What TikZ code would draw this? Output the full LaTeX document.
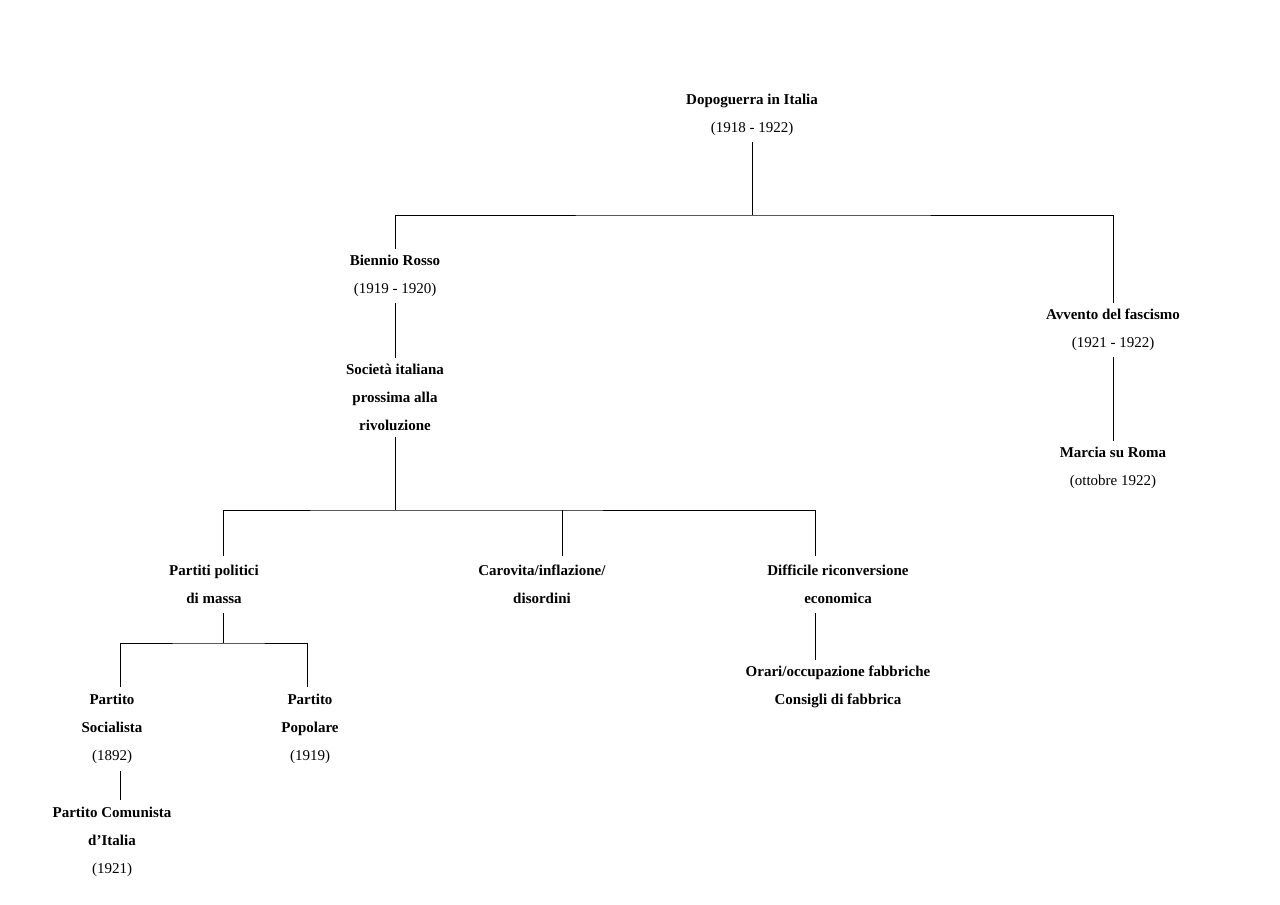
\documentclass[tikz,border=0pt]{standalone}
\usepackage{fontspec}
\setmainfont{Liberation Serif}
\usetikzlibrary{positioning}
\tikzset{
    topic/.style={align=center, inner sep=6pt, font=\fontsize{15}{28}\selectfont},
    link/.style={thick},
}
\newcommand{\ttl}[1]{\textbf{#1}}
\begin{document}
\begin{tikzpicture}[x=1pt, y=-1pt]
        \useasboundingbox (0,0) rectangle (1280,905);
        \node[topic] (root) at (752,115) {\ttl{Dopoguerra in Italia}\\(1918 - 1922)};
        \node[topic] (bien) at (395,276) {\ttl{Biennio Rosso}\\(1919 - 1920)};
        \node[topic] (soc) at (395,397) {\ttl{Società italiana}\\\ttl{prossima alla}\\\ttl{rivoluzione}};
        \node[topic] (avv) at (1113,330) {\ttl{Avvento del fascismo}\\(1921 - 1922)};
        \node[topic] (marcia) at (1113,468) {\ttl{Marcia su Roma}\\(ottobre 1922)};
        \node[topic] (part) at (214,584) {\ttl{Partiti politici}\\\ttl{di massa}};
        \node[topic] (caro) at (542,584) {\ttl{Carovita/inflazione/}\\\ttl{disordini}};
        \node[topic] (diff) at (838,584) {\ttl{Difficile riconversione}\\\ttl{economica}};
        \node[topic] (orari) at (838,687) {\ttl{Orari/occupazione fabbriche}\\\ttl{Consigli di fabbrica}};
        \node[topic] (psi) at (112,729) {\ttl{Partito}\\\ttl{Socialista}\\(1892)};
        \node[topic] (ppi) at (310,729) {\ttl{Partito}\\\ttl{Popolare}\\(1919)};
        \node[topic] (pcd) at (112,842) {\ttl{Partito Comunista}\\\ttl{d'Italia}\\(1921)};

        % junctions
        \coordinate (jroot) at (752,215);
        \coordinate (jsoc) at (395,510);
        \coordinate (jpart) at (223,643);
        \coordinate (partb) at (223,613);
        \coordinate (partt) at (223,556);
        \coordinate (carot) at (562,556);
        \coordinate (difft) at (815,556);
        \coordinate (diffb) at (815,613);
        \coordinate (orarit) at (815,660);
        \coordinate (psit) at (120,687);
        \coordinate (psib) at (120,771);
        \coordinate (pcdt) at (120,800);
        \coordinate (ppit) at (307,687);

        \draw[link] (root) -- (jroot);
        \draw[link] (bien) |- (jroot) -| (avv);
        \draw[link] (bien) -- (soc);
        \draw[link] (avv) -- (marcia);
        \draw[link] (soc) -- (jsoc);
        \draw[link] (partt) |- (jsoc) -| (difft);
        \draw[link] (jsoc -| carot) -- (carot);
        \draw[link] (diffb) -- (orarit);
        \draw[link] (partb) -- (jpart);
        \draw[link] (psit) |- (jpart) -| (ppit);
        \draw[link] (psib) -- (pcdt);
\end{tikzpicture}
\end{document}
